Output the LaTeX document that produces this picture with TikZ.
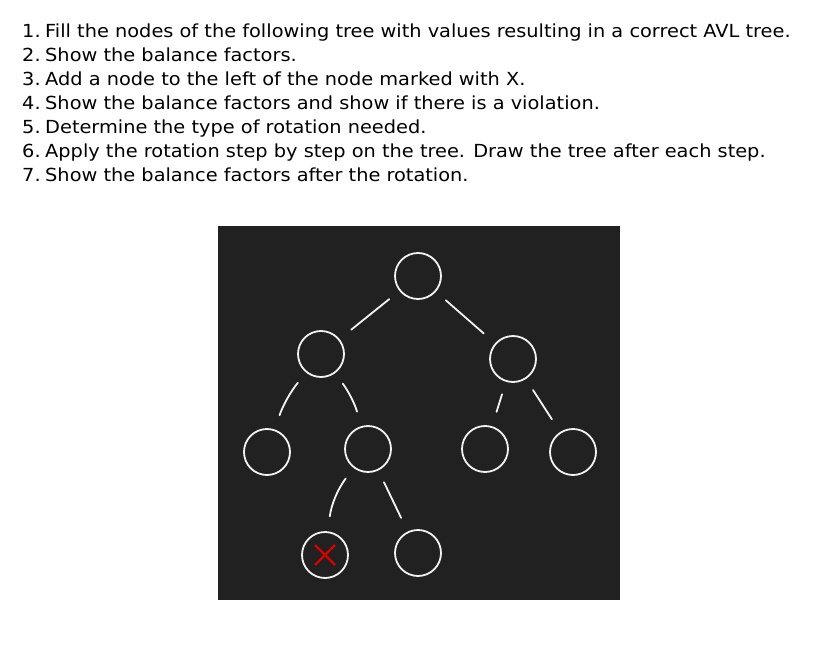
\documentclass[tikz,border=0pt]{standalone}
\usepackage{fontspec}
\setmainfont{DejaVu Sans}[FakeStretch=1.075]
\begin{document}
\begin{tikzpicture}[x=1pt,y=-1pt,
  txt/.style={anchor=base west,inner sep=0pt,font=\fontsize{18}{20}\selectfont},
  tn/.style={circle,draw=white!90!gray,line width=1.8pt,minimum size=46pt,inner sep=0pt},
  ed/.style={draw=white!90!gray,line width=1.8pt,line cap=round,shorten <=13pt,shorten >=15pt}]
\useasboundingbox (0,0) rectangle (830,655);
\fill[white] (0,0) rectangle (830,655);
\foreach \i/\t in {1/Fill the nodes of the following tree with values resulting in a correct AVL tree.,
  2/Show the balance factors.,
  3/Add a node to the left of the node marked with X.,
  4/Show the balance factors and show if there is a violation.,
  5/Determine the type of rotation needed.,
  6/Apply the rotation step by step on the tree. Draw the tree after each step.,
  7/Show the balance factors after the rotation.}{
  \node[txt] (n\i) at (22,{38+24*(\i-1)}) {\i.};
  \node[txt] (t\i) at (45,{38+24*(\i-1)}) {\t};
}
\fill[black!87] (218,226) rectangle (620,600);
\node[tn] (r) at (418,276) {};
\node[tn] (a) at (321,354) {};
\node[tn] (b) at (513,359) {};
\node[tn] (c) at (267,452) {};
\node[tn] (d) at (368,449) {};
\node[tn] (e) at (485,449) {};
\node[tn] (f) at (573,452) {};
\node[tn] (x) at (325,555) {};
\node[tn] (g) at (418,553) {};
\draw[red!85!black,line width=2.2pt] (x.center)+(-10,-10) -- +(10,10) (x.center)+(10,-10) -- +(-10,10);
\draw[ed] (r) -- (a);
\draw[ed] (r) -- (b);
\draw[ed] (a) to[bend right=10] (c);
\draw[ed] (a) to[bend left=10] (d);
\draw[ed] (b) -- (e);
\draw[ed] (b) -- (f);
\draw[ed] (d) to[bend right=15] (x);
\draw[ed] (d) -- (g);
\end{tikzpicture}
\end{document}
